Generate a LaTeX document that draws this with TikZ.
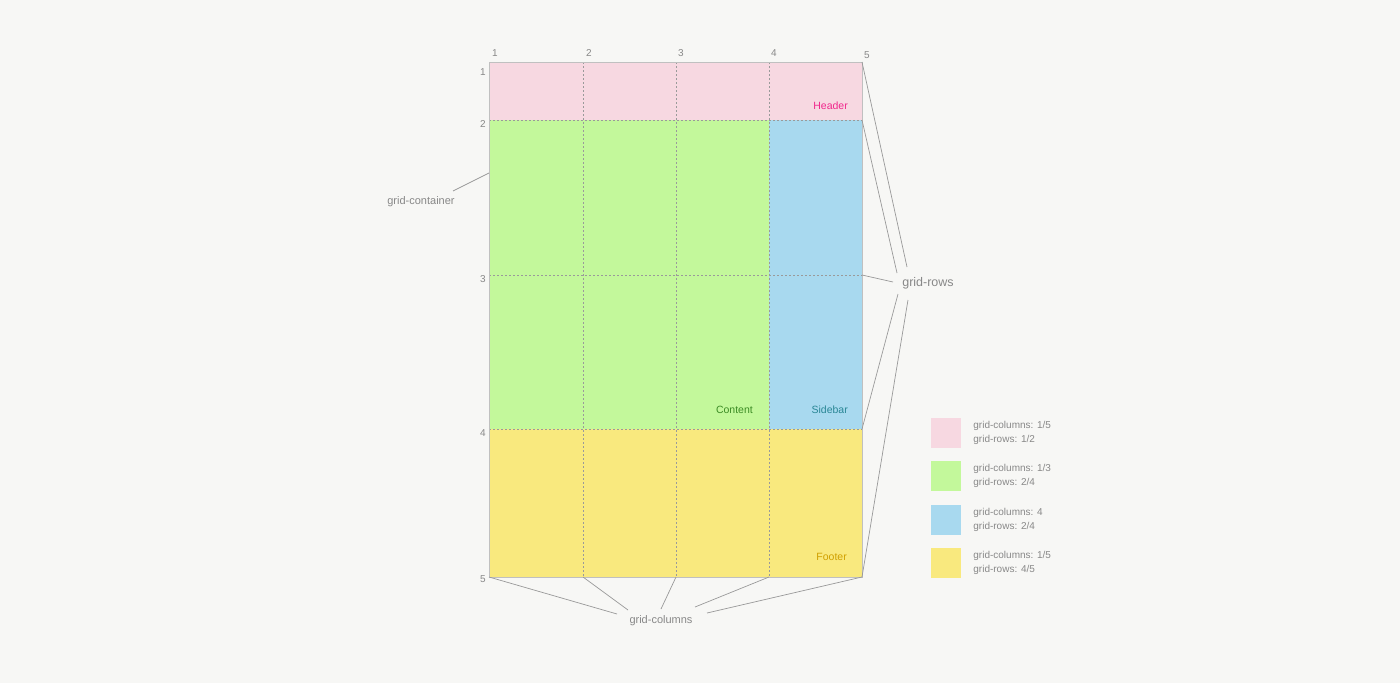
\documentclass[tikz,border=0pt]{standalone}
\usepackage{fontspec}
\setmainfont{Liberation Sans}
\usepackage{tikz}
\usetikzlibrary{positioning}
\definecolor{bg}{HTML}{F7F7F5}
\definecolor{headerpink}{HTML}{F7D8E1}
\definecolor{contentgreen}{HTML}{C3F89B}
\definecolor{sidebarblue}{HTML}{A8D9EF}
\definecolor{footeryellow}{HTML}{F9E97E}
\definecolor{txtgray}{HTML}{888888}
\definecolor{leadgray}{HTML}{999999}
\definecolor{dashgray}{HTML}{9A9A9A}
\definecolor{bordergray}{HTML}{C0C0C0}
\definecolor{headertxt}{HTML}{F0288C}
\definecolor{contenttxt}{HTML}{3C8C25}
\definecolor{sidebartxt}{HTML}{2A8796}
\definecolor{footertxt}{HTML}{D0A000}

\begin{document}
\begin{tikzpicture}[x=1pt,y=-1pt,node distance=13pt,
  every node/.style={inner sep=0pt},
  num/.style={font=\fontsize{10}{11}\selectfont,text=txtgray},
  note/.style={font=\fontsize{11}{13}\selectfont,text=txtgray},
  area/.style={font=\fontsize{10.5}{12}\selectfont,anchor=east},
  swatch/.style={minimum size=30pt},
  key/.style={font=\fontsize{10}{14}\selectfont,text=txtgray,align=left},
  lead/.style={draw=leadgray,line width=0.7pt},
  gridline/.style={draw=dashgray,line width=0.6pt,dash pattern=on 2pt off 2pt}]
  \fill[bg] (0,0) rectangle (1400,683);
  % grid corners
  \foreach \c/\x in {1/489,2/583,3/676,4/769,5/862}
    \foreach \r/\y in {1/62,2/120,3/275,4/429,5/577}
      \coordinate (g\c\r) at (\x,\y);
  % areas
  \fill[headerpink] (g11) rectangle (g52);
  \fill[contentgreen] (g12) rectangle (g44);
  \fill[sidebarblue] (g42) rectangle (g54);
  \fill[footeryellow] (g14) rectangle (g55);
  \foreach \c in {2,3,4} \draw[gridline] (g\c1) -- (g\c5);
  \foreach \r in {2,3,4} \draw[gridline] (g1\r) -- (g5\r);
  \draw[bordergray,line width=0.7pt] (g11) rectangle (g55);
  \node[area,text=headertxt] (header) at (848,106) {Header};
  \node[area,text=contenttxt] (content) at (753,410) {Content};
  \node[area,text=sidebartxt] (sidebar) at (848,410) {Sidebar};
  \node[area,text=footertxt] (footer) at (847,557) {Footer};
  % line numbers
  \foreach \c/\x in {1/495,2/589,3/681,4/774} \node[num] (col\c) at (\x,53) {\c};
  \node[num] (col5) at (867,55) {5};
  \foreach \r/\y in {1/72,2/124,3/279,4/433,5/579} \node[num] (row\r) at (483,\y) {\r};
  % notes
  \node[note] (container) at (421,202) {grid-container};
  \node[note,font=\fontsize{12.5}{14}\selectfont] (rows) at (928,283) {grid-rows};
  \node[note] (cols) at (661,621) {grid-columns};
  \coordinate (ct) at (453,191);
  \coordinate (ctg) at (489,173);
  \foreach \i/\p in {1/{907,267},2/{897,273},3/{893,282},4/{898,294},5/{908,300}}
    \coordinate (rw\i) at (\p);
  \foreach \i/\p in {1/{617,614},2/{628,610},3/{661,609},4/{695,607},5/{707,613}}
    \coordinate (cl\i) at (\p);
  \draw[lead] (ctg) -- (ct);
  \foreach \i in {1,...,5} \draw[lead] (g5\i) -- (rw\i);
  \foreach \i in {1,...,5} \draw[lead] (g\i5) -- (cl\i);
  % legend
  \node[swatch,fill=headerpink] (kh) at (946,433) {};
  \node[swatch,fill=contentgreen,below=of kh] (kc) {};
  \node[swatch,fill=sidebarblue,below=of kc] (ks) {};
  \node[swatch,fill=footeryellow,below=of ks] (kf) {};
  \node[key,right=12pt of kh] (kht) {grid-columns: 1/5\\grid-rows: 1/2};
  \node[key,right=12pt of kc] (kct) {grid-columns: 1/3\\grid-rows: 2/4};
  \node[key,right=12pt of ks] (kst) {grid-columns: 4\\grid-rows: 2/4};
  \node[key,right=12pt of kf] (kft) {grid-columns: 1/5\\grid-rows: 4/5};
\end{tikzpicture}
\end{document}
